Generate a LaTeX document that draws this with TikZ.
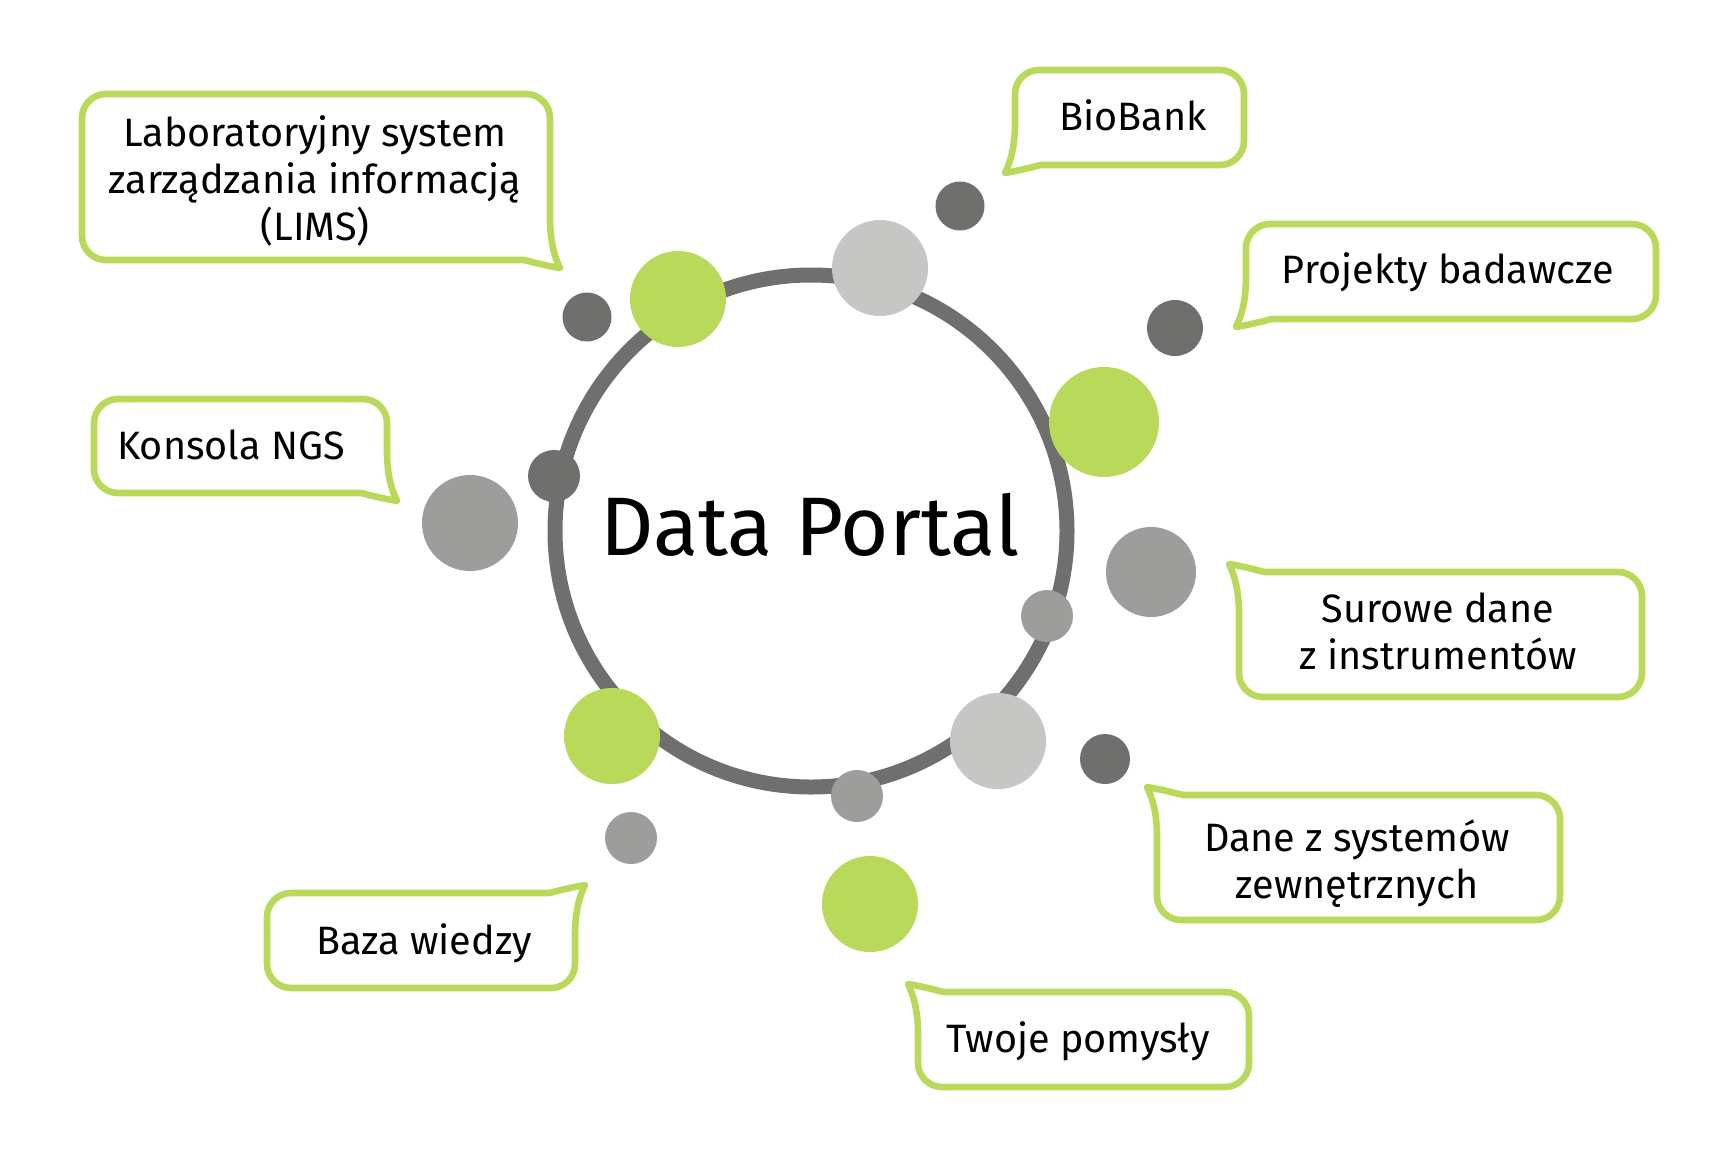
\documentclass[tikz,border=0pt]{standalone}
\usepackage{fontspec}
\setmainfont{Fira Sans}
\definecolor{bgreen}{RGB}{184,217,89}
\definecolor{dkgray}{RGB}{111,111,110}
\definecolor{mdgray}{RGB}{157,157,156}
\definecolor{ltgray}{RGB}{198,198,197}
\tikzset{
  bubbleline/.style={draw=bgreen, line width=3.3pt, line join=round, fill=white},
  boxtext/.style={font=\fontsize{19.8pt}{23.5pt}\selectfont, align=center, inner sep=0pt, anchor=base},
  ringline/.style={draw=dkgray, line width=7.5pt},
}
% #1,#2 tail corner; #3 width; #4 height; #5 xscale; #6 yscale
\newcommand\speechbox[6]{%
  \begin{scope}[shift={(#1,#2)}, xscale=#5, yscale=#6]
    \path[bubbleline] (0,42) [rounded corners=12pt] -- (0,#4) -- (#3,#4) -- (#3,0) -- (50,0) [sharp corners]
      .. controls (25,0) and (8,-5) .. (-10,-8)
      .. controls (-4,4) and (0,20) .. (0,42) -- cycle;
  \end{scope}}
\begin{document}
\begin{tikzpicture}[x=0.5pt,y=-0.5pt]
\useasboundingbox[fill=white] (0,0) rectangle (1724,1163);
% ring
\draw[ringline] (811,531) circle[radius=256];
% dots
\fill[dkgray] (587,317) circle[radius=24.5];
\fill[bgreen] (678,299) circle[radius=48];
\fill[ltgray] (880,268) circle[radius=48];
\fill[dkgray] (960,206) circle[radius=24.5];
\fill[dkgray] (1175,328) circle[radius=28];
\fill[bgreen] (1104,422) circle[radius=55];
\fill[mdgray] (1151,572) circle[radius=45];
\fill[mdgray] (1047,616) circle[radius=26];
\fill[ltgray] (998,741) circle[radius=48];
\fill[dkgray] (1105,759) circle[radius=25];
\fill[mdgray] (857,796) circle[radius=26];
\fill[bgreen] (612,736) circle[radius=48];
\fill[mdgray] (631,838) circle[radius=26];
\fill[bgreen] (870,904) circle[radius=48];
\fill[mdgray] (470,523) circle[radius=48];
\fill[dkgray] (554,476) circle[radius=26];
% bubbles
\speechbox{550}{260}{468}{166}{-1}{-1}
\speechbox{1015}{165}{229}{95}{1}{-1}
\speechbox{1246}{319}{410}{95}{1}{-1}
\speechbox{387}{493}{293}{94}{-1}{-1}
\speechbox{1239}{572}{403}{125}{1}{1}
\speechbox{1157}{795}{403}{125}{1}{1}
\speechbox{575}{893}{308}{95}{-1}{1}
\speechbox{918}{992}{331}{95}{1}{1}
% texts (base = baseline of the last line)
\node[boxtext] (lims) at (315,240) {Laboratoryjny system\\zarządzania informacją\\(LIMS)};
\node[boxtext] (biobank) at (1133,130) {BioBank};
\node[boxtext] (projekty) at (1448,283) {Projekty badawcze};
\node[boxtext] (konsola) at (231,459) {Konsola NGS};
\node[boxtext] (surowe) at (1438,669) {Surowe dane\\z instrumentów};
\node[boxtext] (dane) at (1357,898) {Dane z systemów\\zewnętrznych};
\node[boxtext] (baza) at (424,954) {Baza wiedzy};
\node[boxtext] (twoje) at (1078,1052) {Twoje pomysły};
\node[font=\fontsize{41.5pt}{50pt}\selectfont, inner sep=0pt, anchor=base] (portal) at (810,555) {Data Portal};
\end{tikzpicture}
\end{document}
